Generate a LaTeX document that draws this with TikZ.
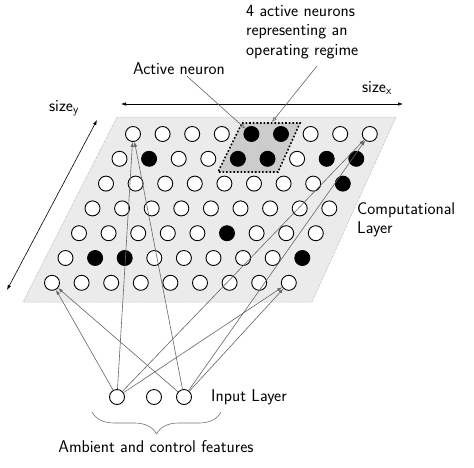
\documentclass[tikz,border=0pt]{standalone}
\usetikzlibrary{arrows.meta,decorations.pathreplacing}
\begin{document}
\begin{tikzpicture}[x=1pt,y=-1pt,
  neuron/.style={circle,draw=black,line width=0.9pt,minimum size=15pt,inner sep=0pt,fill=white},
  conn/.style={draw=black!60,line width=0.6pt,-{Latex[length=5pt,width=3.5pt]}},
  pointer/.style={draw=black!60,line width=0.6pt,-{Latex[open,length=5pt,width=4pt]}},
  dimarrow/.style={draw=black,line width=0.6pt,{Latex[length=5pt,width=3.5pt]}-{Latex[length=5pt,width=3.5pt]}},
  lbl/.style={font=\fontsize{17}{19.5}\selectfont\sffamily,inner sep=1pt},
  act04/.style={fill=black}, act05/.style={fill=black},
  act11/.style={fill=black}, act14/.style={fill=black}, act15/.style={fill=black},
  act17/.style={fill=black}, act18/.style={fill=black},
  act28/.style={fill=black}, act45/.style={fill=black},
  act51/.style={fill=black}, act52/.style={fill=black}, act58/.style={fill=black},
]
\useasboundingbox (0,0) rectangle (474,467);
\fill[white] (0,0) rectangle (474,467);
% computational layer plane
\draw[fill=black!8,draw=black!40,densely dotted,line width=0.5pt]
  (117,117) -- (396,117) -- (312,302) -- (23,302) -- cycle;
% operating regime region
\draw[fill=black!20,draw=black,dotted,line width=1.6pt]
  (242,123) -- (300,123) -- (278,172) -- (218,172) -- cycle;
% neurons
\foreach \r in {0,...,6}{
  \foreach \c in {0,...,8}{
    \node[neuron,act\r\c/.try] (n\r\c) at ({133-13.5*\r+29.6*\c},{134+24.8*\r}) {};
  }
}
% input layer
\node[neuron] (i1) at (117,397) {};
\node[neuron] (i2) at (154,397) {};
\node[neuron] (i3) at (184,397) {};
% connections
\foreach \i in {i1,i3}{
  \foreach \t in {n60,n00,n08,n68}{
    \draw[conn] (\i) -- (\t);
  }
}
% size arrows
\coordinate (sxl) at (121,104);
\coordinate (sxr) at (403,104);
\draw[dimarrow] (sxl) -- (sxr);
\coordinate (syt) at (97,120);
\coordinate (syb) at (7,290);
\draw[dimarrow] (syt) -- (syb);
\node[lbl] (sx) at (377,88) {size\textsubscript{x}};
\node[lbl] (sy) at (64,108) {size\textsubscript{y}};
% labels
\node[lbl] (an) at (179,69) {Active neuron};
\draw[pointer] (an) -- (n04);
\node[lbl,align=left,anchor=north west] (reg) at (245,4) {4 active neurons\\representing an\\operating regime};
\coordinate (regfoot) at (317,66);
\coordinate (regtop) at (272,122);
\draw[pointer] (regfoot) -- (regtop);
\node[lbl,align=left,anchor=west] (cl) at (356,220) {Computational\\Layer};
\node[lbl,anchor=west] (il) at (210,397) {Input Layer};
% brace
\coordinate (br) at (221,412);
\coordinate (bl) at (92,412);
\draw[black!55,line width=0.6pt,decorate,decoration={brace,amplitude=22pt}] (br) -- (bl);
\node[lbl] (amb) at (156,447) {Ambient and control features};
\end{tikzpicture}
\end{document}
